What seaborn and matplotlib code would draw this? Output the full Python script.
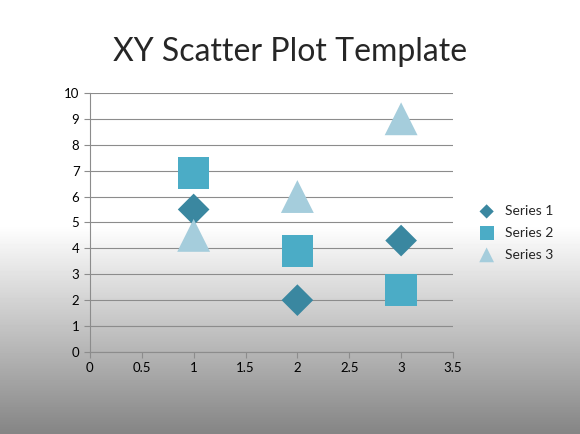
import numpy as np
import matplotlib
matplotlib.use("Agg")
import matplotlib.pyplot as plt
import seaborn as sns
import pandas as pd

x_vals = [1, 2, 3]
series1 = [5.5, 2.0, 4.3]
series2 = [6.9, 3.9, 2.4]
series3 = [4.5, 6.0, 9.0]
series_names = ["Series 1", "Series 2", "Series 3"]
colors = ["#3A87A0", "#4BACC6", "#A5CDDC"]
markers = ["D", "s", "^"]
sizes = [260, 520, 560]

sns.set_style("white")
plt.rcParams["font.family"] = ["Lato", "DejaVu Sans"]

fig = plt.figure(figsize=(5.8, 4.34), dpi=100)

# background gradient: white on top, grey towards the bottom
bg = fig.add_axes([0, 0, 1, 1], zorder=-1)
rows = np.linspace(0, 1, 434)
grad = np.where(rows < 0.52, 1.0, 1.0 - (rows - 0.52) / 0.48 * 0.48)
bg.imshow(np.tile(grad[:, None], (1, 10)), cmap="gray", vmin=0, vmax=1, aspect="auto",
          extent=[0, 1, 0, 1])
bg.set_axis_off()

ax = fig.add_axes([0.155, 0.189, 0.626, 0.597])
ax.patch.set_alpha(0)

df = pd.DataFrame({
    "x": x_vals * 3,
    "y": series1 + series2 + series3,
    "series": [n for n in series_names for _ in x_vals],
})
for name, c, m, s in zip(series_names, colors, markers, sizes):
    sub = df[df.series == name]
    sns.scatterplot(data=sub, x="x", y="y", color=c, marker=m, s=s, ax=ax,
                    edgecolor="none", label=name, zorder=3)

ax.set_xlim(0, 3.5)
ax.set_ylim(0, 10)
ax.set_xticks(np.arange(0, 3.51, 0.5))
ax.set_xticklabels(["0", "0.5", "1", "1.5", "2", "2.5", "3", "3.5"])
ax.set_yticks(range(0, 11))
ax.yaxis.grid(True, color="#8C8C8C", linewidth=0.8)
ax.set_xlabel("")
ax.set_ylabel("")
for sp in ["top", "right"]:
    ax.spines[sp].set_visible(False)
for sp in ["left", "bottom"]:
    ax.spines[sp].set_color("#8C8C8C")
ax.tick_params(axis="both", labelsize=9.5, colors="black", length=4, direction="out",
               bottom=True, left=True, color="#8C8C8C")

leg = ax.legend(loc="center left", bbox_to_anchor=(1.02, 0.46), frameon=False,
                fontsize=10, markerscale=0.45, handletextpad=0.3, labelspacing=0.7)

fig.text(0.5, 0.88, "XY Scatter Plot Template", ha="center", va="center", fontsize=23)

fig.savefig("out.png", dpi=100)
